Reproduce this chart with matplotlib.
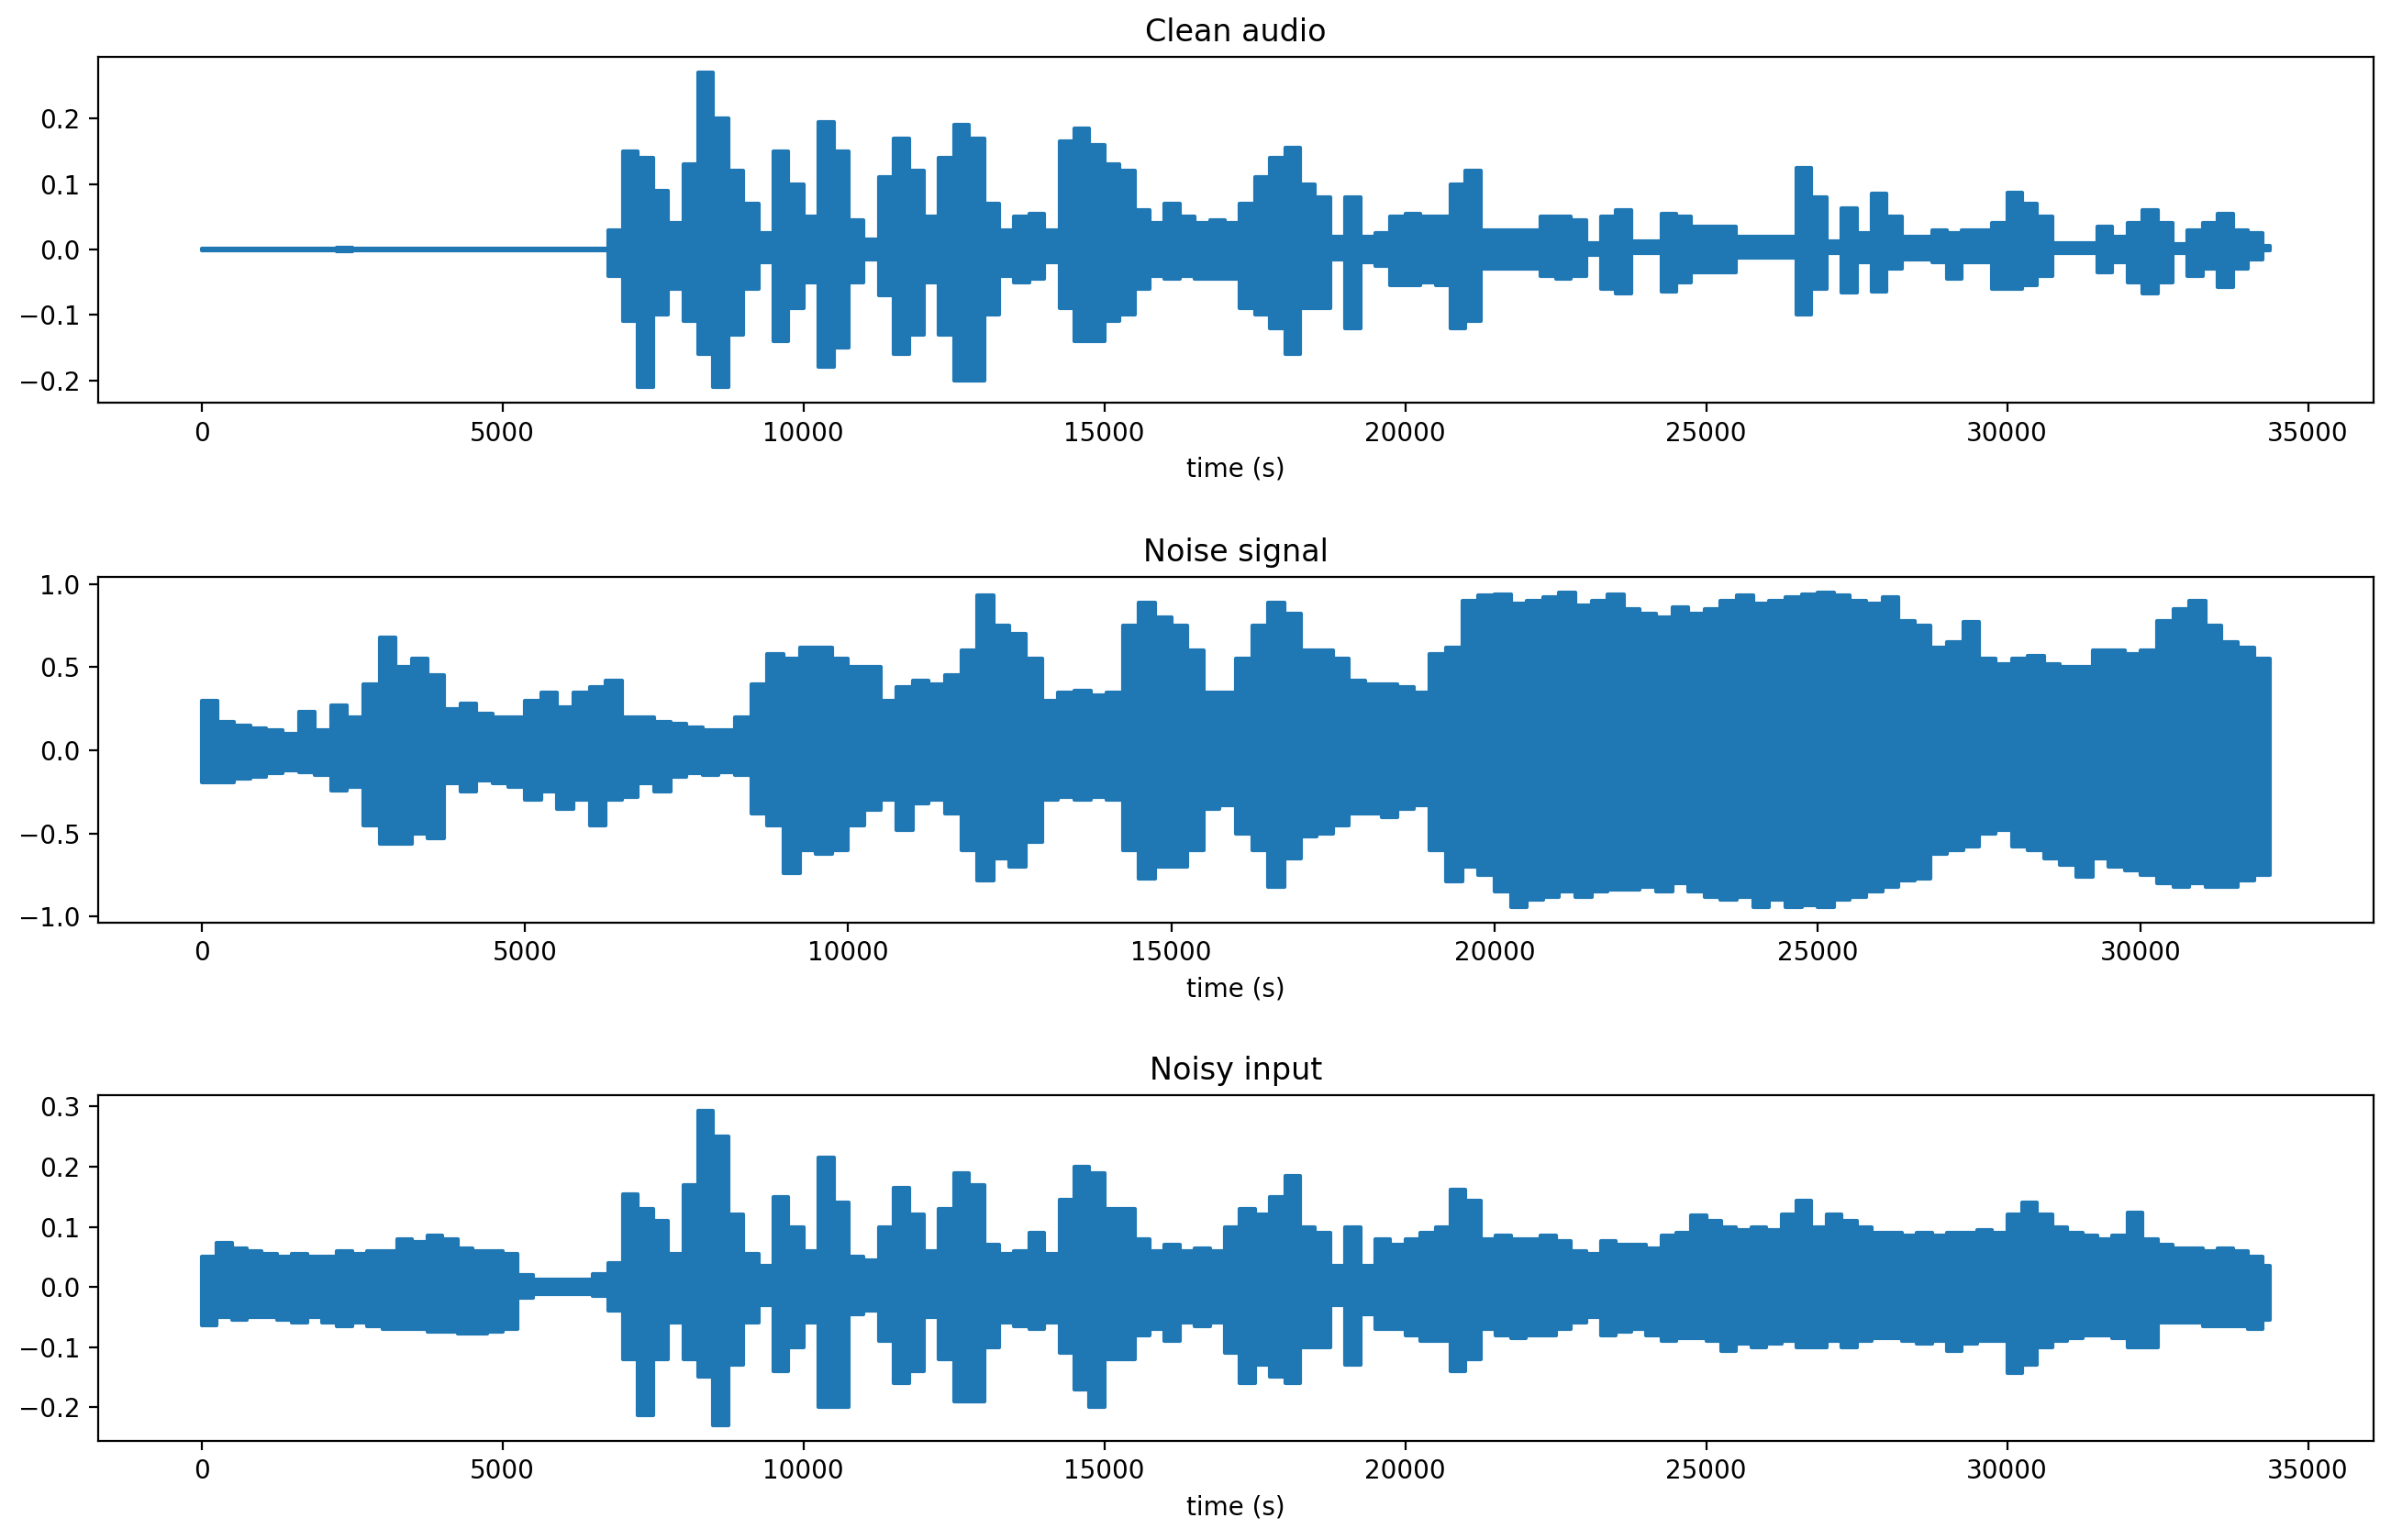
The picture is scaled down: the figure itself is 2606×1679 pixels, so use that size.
import numpy as np
import matplotlib
matplotlib.use("Agg")
import matplotlib.pyplot as plt

# ---- data: per-frame max / min of each waveform ----
frame_size = 250
clean_len = 34370
noise_len = 32000
noisy_len = 34370

clean_hi = [0.001, 0.001, 0.001, 0.001, 0.001, 0.001, 0.001, 0.001, 0.001, 0.003,
            0.001, 0.001, 0.001, 0.001, 0.001, 0.001, 0.001, 0.001, 0.001, 0.001,
            0.001, 0.001, 0.001, 0.001, 0.001, 0.001, 0.002,
            0.03, 0.15, 0.14, 0.09, 0.04, 0.13, 0.27, 0.2, 0.12, 0.07, 0.025, 0.15, 0.1,
            0.05, 0.195, 0.15, 0.045, 0.015, 0.11, 0.17, 0.12, 0.05, 0.14, 0.19, 0.17,
            0.07, 0.03, 0.05, 0.055, 0.03, 0.165, 0.185, 0.16, 0.13, 0.12, 0.06, 0.04,
            0.07, 0.05, 0.04, 0.045, 0.04, 0.07, 0.11, 0.14, 0.155, 0.1, 0.08, 0.02,
            0.08, 0.02, 0.025, 0.05, 0.055, 0.05, 0.05, 0.1, 0.12, 0.03, 0.03, 0.03,
            0.03, 0.05, 0.05, 0.045, 0.01, 0.05, 0.06, 0.012, 0.012, 0.055, 0.05, 0.035,
            0.035, 0.035, 0.02, 0.02, 0.02, 0.02, 0.125, 0.08, 0.012, 0.063, 0.025,
            0.085, 0.05, 0.02, 0.02, 0.03, 0.025, 0.03, 0.03, 0.04, 0.087, 0.07, 0.05,
            0.01, 0.01, 0.01, 0.035, 0.02, 0.04, 0.06, 0.04, 0.008, 0.03, 0.04, 0.055,
            0.03, 0.025, 0.005]
clean_lo = [-0.001, -0.001, -0.001, -0.001, -0.001, -0.001, -0.001, -0.001, -0.001, -0.003,
            -0.001, -0.001, -0.001, -0.001, -0.001, -0.001, -0.001, -0.001, -0.001, -0.001,
            -0.001, -0.001, -0.001, -0.001, -0.001, -0.001, -0.002,
            -0.04, -0.11, -0.21, -0.1, -0.06, -0.11, -0.16, -0.21, -0.13, -0.06, -0.02,
            -0.14, -0.09, -0.05, -0.18, -0.15, -0.05, -0.015, -0.07, -0.16, -0.13, -0.05,
            -0.13, -0.2, -0.2, -0.1, -0.04, -0.05, -0.045, -0.02, -0.09, -0.14, -0.14,
            -0.11, -0.1, -0.06, -0.04, -0.045, -0.04, -0.045, -0.045, -0.045, -0.09, -0.1,
            -0.12, -0.16, -0.09, -0.09, -0.015, -0.12, -0.02, -0.025, -0.055, -0.055,
            -0.05, -0.055, -0.12, -0.11, -0.03, -0.03, -0.03, -0.03, -0.04, -0.045, -0.04,
            -0.008, -0.06, -0.068, -0.006, -0.006, -0.065, -0.05, -0.035, -0.035, -0.035,
            -0.013, -0.013, -0.013, -0.013, -0.1, -0.06, -0.006, -0.066, -0.02, -0.065,
            -0.03, -0.015, -0.015, -0.02, -0.045, -0.02, -0.02, -0.06, -0.06, -0.055,
            -0.04, -0.005, -0.005, -0.005, -0.035, -0.02, -0.05, -0.068, -0.05, -0.005,
            -0.04, -0.03, -0.057, -0.03, -0.015, -0.002]

noise_hi = [0.3, 0.17, 0.15, 0.13, 0.12, 0.1, 0.23, 0.12, 0.27, 0.2, 0.4, 0.68, 0.5,
            0.55, 0.45, 0.25, 0.28, 0.22, 0.2, 0.2, 0.3, 0.35, 0.26, 0.35, 0.38, 0.42,
            0.2, 0.2, 0.17, 0.16, 0.14, 0.12, 0.12, 0.2, 0.4, 0.58, 0.55, 0.62, 0.62,
            0.55, 0.5, 0.5, 0.3, 0.38, 0.42, 0.4, 0.45, 0.6, 0.93, 0.75, 0.7, 0.55, 0.3,
            0.35, 0.36, 0.33, 0.35, 0.75, 0.89, 0.8, 0.75, 0.6, 0.35, 0.35, 0.55, 0.75,
            0.89, 0.82, 0.6, 0.6, 0.55, 0.42, 0.4, 0.4, 0.38, 0.35, 0.58, 0.62, 0.9,
            0.93, 0.94, 0.88, 0.9, 0.92, 0.95, 0.87, 0.9, 0.94, 0.85, 0.82, 0.8, 0.86,
            0.82, 0.85, 0.9, 0.93, 0.88, 0.9, 0.92, 0.94, 0.95, 0.93, 0.9, 0.88, 0.92,
            0.78, 0.75, 0.62, 0.65, 0.77, 0.55, 0.52, 0.55, 0.57, 0.52, 0.5, 0.5, 0.6,
            0.6, 0.58, 0.6, 0.78, 0.85, 0.9, 0.75, 0.65, 0.62, 0.55]
noise_lo = [-0.19, -0.19, -0.17, -0.16, -0.14, -0.12, -0.13, -0.15, -0.24, -0.22, -0.45,
            -0.56, -0.56, -0.5, -0.53, -0.2, -0.25, -0.18, -0.2, -0.22, -0.3, -0.25,
            -0.35, -0.3, -0.45, -0.3, -0.28, -0.2, -0.25, -0.16, -0.14, -0.15, -0.13,
            -0.15, -0.38, -0.45, -0.74, -0.6, -0.62, -0.6, -0.45, -0.36, -0.3, -0.48,
            -0.32, -0.3, -0.38, -0.6, -0.78, -0.65, -0.7, -0.55, -0.3, -0.28, -0.3,
            -0.28, -0.3, -0.6, -0.77, -0.7, -0.7, -0.6, -0.35, -0.33, -0.5, -0.6, -0.82,
            -0.65, -0.52, -0.5, -0.45, -0.38, -0.38, -0.4, -0.35, -0.33, -0.6, -0.79,
            -0.7, -0.75, -0.85, -0.94, -0.9, -0.88, -0.85, -0.88, -0.85, -0.84, -0.84,
            -0.82, -0.85, -0.8, -0.85, -0.88, -0.9, -0.88, -0.94, -0.9, -0.94, -0.93,
            -0.94, -0.9, -0.88, -0.85, -0.82, -0.78, -0.77, -0.62, -0.6, -0.58, -0.5,
            -0.48, -0.58, -0.6, -0.65, -0.69, -0.76, -0.65, -0.7, -0.72, -0.75, -0.8,
            -0.82, -0.8, -0.82, -0.82, -0.78, -0.75]

noisy_hi = [0.05, 0.073, 0.065, 0.06, 0.055, 0.05, 0.055, 0.05, 0.05, 0.06, 0.055, 0.06,
            0.06, 0.08, 0.075, 0.086, 0.08, 0.065, 0.06, 0.06, 0.055, 0.02, 0.012, 0.012,
            0.012, 0.012, 0.022, 0.04, 0.154, 0.13, 0.11, 0.055, 0.17, 0.293, 0.25, 0.12,
            0.055, 0.035, 0.15, 0.1, 0.06, 0.215, 0.14, 0.05, 0.045, 0.1, 0.165, 0.12,
            0.06, 0.13, 0.19, 0.17, 0.07, 0.055, 0.06, 0.09, 0.055, 0.145, 0.2, 0.19,
            0.13, 0.13, 0.08, 0.06, 0.07, 0.06, 0.065, 0.06, 0.1, 0.13, 0.12, 0.15,
            0.185, 0.1, 0.09, 0.035, 0.1, 0.035, 0.08, 0.07, 0.08, 0.09, 0.1, 0.162,
            0.144, 0.08, 0.085, 0.08, 0.08, 0.085, 0.077, 0.06, 0.055, 0.077, 0.07, 0.07,
            0.065, 0.085, 0.09, 0.119, 0.11, 0.1, 0.095, 0.1, 0.095, 0.12, 0.144, 0.1,
            0.12, 0.11, 0.1, 0.09, 0.09, 0.085, 0.09, 0.085, 0.09, 0.09, 0.095, 0.09,
            0.12, 0.14, 0.12, 0.1, 0.09, 0.085, 0.08, 0.085, 0.124, 0.08, 0.07, 0.065,
            0.065, 0.06, 0.065, 0.06, 0.05, 0.035]
noisy_lo = [-0.064, -0.05, -0.054, -0.05, -0.05, -0.055, -0.06, -0.05, -0.06, -0.065,
            -0.06, -0.065, -0.07, -0.07, -0.07, -0.074, -0.075, -0.078, -0.078, -0.075,
            -0.07, -0.018, -0.012, -0.012, -0.012, -0.012, -0.015, -0.04, -0.12, -0.214,
            -0.12, -0.06, -0.12, -0.15, -0.23, -0.13, -0.06, -0.03, -0.14, -0.1, -0.06,
            -0.2, -0.2, -0.045, -0.04, -0.09, -0.16, -0.14, -0.05, -0.12, -0.19, -0.19,
            -0.1, -0.06, -0.065, -0.07, -0.06, -0.11, -0.17, -0.2, -0.12, -0.12, -0.08,
            -0.07, -0.09, -0.06, -0.065, -0.06, -0.11, -0.16, -0.13, -0.15, -0.16, -0.1,
            -0.1, -0.03, -0.13, -0.045, -0.07, -0.07, -0.08, -0.09, -0.09, -0.14, -0.12,
            -0.07, -0.08, -0.085, -0.08, -0.08, -0.07, -0.06, -0.05, -0.08, -0.075,
            -0.07, -0.08, -0.09, -0.085, -0.085, -0.09, -0.107, -0.095, -0.1, -0.095,
            -0.09, -0.1, -0.1, -0.09, -0.1, -0.09, -0.085, -0.085, -0.09, -0.095, -0.09,
            -0.107, -0.095, -0.09, -0.09, -0.143, -0.13, -0.1, -0.09, -0.085, -0.08,
            -0.08, -0.085, -0.1, -0.1, -0.06, -0.06, -0.06, -0.065, -0.065, -0.065,
            -0.07, -0.055]

titles = ["Clean audio", "Noise signal", "Noisy input"]
xlabel = "time (s)"
color = "#1f77b4"

series = [(clean_hi, clean_lo, clean_len),
          (noise_hi, noise_lo, noise_len),
          (noisy_hi, noisy_lo, noisy_len)]

DPI = 200
fig = plt.figure(figsize=(2606 / DPI, 1679 / DPI), dpi=DPI)

left, right = 0.0411, 0.9927
bottoms = [0.7385, 0.4010, 0.0643]
height = 0.2246

for (hi, lo, n), title, b in zip(series, titles, bottoms):
    ax = fig.add_axes([left, b, right - left, height])
    hi = np.asarray(hi)
    lo = np.asarray(lo)
    edges = np.minimum(np.arange(len(hi) + 1) * frame_size, n - 1)
    xs = np.repeat(edges, 2)[1:-1]
    ax.fill_between(xs, np.repeat(lo, 2), np.repeat(hi, 2),
                    facecolor=color, edgecolor=color, linewidth=1.5,
                    joinstyle="round")
    ax.set_xlim(-0.05 * (n - 1), 1.05 * (n - 1))
    ymin, ymax = lo.min(), hi.max()
    r = ymax - ymin
    ax.set_ylim(ymin - 0.05 * r, ymax + 0.05 * r)
    ax.set_title(title)
    ax.set_xlabel(xlabel)

fig.savefig("out.png", dpi=DPI)
